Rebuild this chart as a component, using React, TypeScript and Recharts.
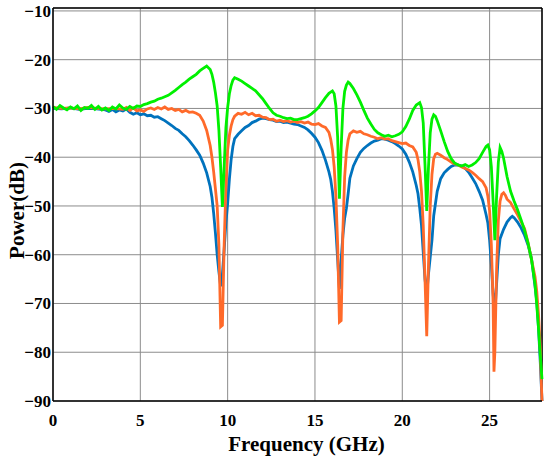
import React from 'react';
import { LineChart, Line, XAxis, YAxis, CartesianGrid, ReferenceLine } from 'recharts';

// frequency (GHz) / power (dB)
const blueFreq = [
  0, 0.5, 1, 1.5, 2, 2.5, 3, 3.2, 3.4, 3.6, 3.8, 4, 4.2, 4.4, 4.6, 4.8, 5, 5.2, 5.4, 5.6, 5.8, 6, 6.2, 6.4,
  6.6, 6.8, 7, 7.2, 7.4, 7.6, 7.8, 8, 8.2, 8.4, 8.6, 8.8, 9, 9.1, 9.2, 9.3, 9.4, 9.5, 9.6, 9.7, 9.8, 9.9,
  10, 10.1, 10.2, 10.3, 10.4, 10.6, 10.8, 11, 11.2, 11.4, 11.6, 11.8, 12, 12.2, 12.4, 12.6, 12.8, 13, 13.2,
  13.4, 13.6, 13.8, 14, 14.2, 14.4, 14.6, 14.8, 15, 15.2, 15.4, 15.6, 15.8, 15.9, 16, 16.1, 16.2, 16.3, 16.4,
  16.5, 16.6, 16.7, 16.8, 16.9, 17, 17.2, 17.4, 17.6, 17.8, 18, 18.2, 18.4, 18.6, 18.8, 19, 19.2, 19.4, 19.6,
  19.8, 20, 20.2, 20.4, 20.6, 20.8, 20.9, 21, 21.1, 21.2, 21.3, 21.4, 21.5, 21.6, 21.7, 21.8, 21.9, 22, 22.2,
  22.4, 22.6, 22.8, 23, 23.2, 23.4, 23.6, 23.8, 24, 24.2, 24.4, 24.6, 24.8, 24.9, 25, 25.1, 25.2, 25.3, 25.4,
  25.5, 25.6, 25.8, 26, 26.2, 26.3, 26.4, 26.6, 26.8, 27, 27.2, 27.4, 27.6, 27.7, 27.8, 27.9, 28,
];
const blueDb = [
  -30.0, -30.1, -29.9, -30.2, -30.0, -30.1, -30.3, -30.6, -30.2, -30.7, -30.3, -30.5, -30.1, -30.8, -31.2, -30.9,
  -31.3, -31.1, -31.5, -31.4, -31.8, -31.7, -32.1, -32.5, -33.0, -33.5, -34.1, -34.5, -35.2, -35.8, -36.6, -37.5,
  -38.5, -39.6, -41.2, -43.2, -46.0, -48.2, -51.5, -55.5, -60, -63.5, -66.5, -64, -59, -53.5, -49.5, -44.5, -40.5,
  -37.8, -36.2, -35.3, -34.6, -33.9, -33.5, -32.9, -32.6, -32.2, -32.0, -32.1, -32.3, -32.4, -32.7, -32.6, -32.9,
  -32.8, -33.0, -33.2, -33.3, -33.6, -33.9, -34.4, -35.1, -35.9, -37.0, -38.6, -40.6, -43, -44.5, -47, -50.5, -55,
  -61, -67, -61, -56, -52.5, -50.5, -47.5, -44.3, -41.8, -40.3, -39.0, -38.2, -37.6, -37.1, -36.7, -36.5, -36.2,
  -36.3, -36.5, -36.8, -37.2, -37.7, -38.3, -39.4, -41.0, -43.0, -45.8, -47.5, -50.5, -54, -59.5, -65, -68, -64,
  -60.5, -57, -52, -49.5, -47.0, -44.4, -43.2, -42.5, -41.9, -41.6, -41.6, -41.8, -42.3, -43.1, -44.2, -45.4, -47.0,
  -48.8, -51.8, -53.5, -57, -62, -68, -72, -66, -60, -56.7, -54.8, -53.3, -52.4, -52.1, -52.4, -53.3, -54.5, -56.0,
  -58.0, -60.8, -66.5, -69.5, -75, -82, -90,
];

const orangeFreq = [
  0, 0.5, 1, 1.5, 2, 2.5, 3, 3.5, 4, 4.2, 4.4, 4.6, 4.8, 5, 5.2, 5.4, 5.6, 5.8, 6, 6.2, 6.4, 6.6, 6.8, 7, 7.2,
  7.4, 7.6, 7.8, 8, 8.2, 8.4, 8.6, 8.8, 9, 9.1, 9.2, 9.3, 9.4, 9.5, 9.6, 9.7, 9.8, 9.9, 10, 10.1, 10.2, 10.3,
  10.4, 10.6, 10.8, 11, 11.2, 11.4, 11.6, 11.8, 12, 12.2, 12.4, 12.6, 12.8, 13, 13.2, 13.4, 13.6, 13.8, 14,
  14.2, 14.4, 14.6, 14.8, 15, 15.2, 15.4, 15.6, 15.8, 15.9, 16, 16.1, 16.2, 16.3, 16.4, 16.5, 16.6, 16.7, 16.8,
  16.9, 17, 17.2, 17.4, 17.6, 17.8, 18, 18.2, 18.4, 18.6, 18.8, 19, 19.2, 19.4, 19.6, 19.8, 20, 20.2, 20.4,
  20.6, 20.8, 20.9, 21, 21.1, 21.2, 21.3, 21.4, 21.5, 21.6, 21.7, 21.8, 21.9, 22, 22.2, 22.4, 22.6, 22.8, 23,
  23.2, 23.4, 23.6, 23.8, 24, 24.2, 24.4, 24.6, 24.8, 24.9, 25, 25.1, 25.2, 25.25, 25.3, 25.4, 25.5, 25.6,
  25.7, 25.8, 25.9, 26, 26.2, 26.4, 26.6, 26.8, 27, 27.2, 27.4, 27.6, 27.7, 27.8, 27.9, 27.95, 28,
];
const orangeDb = [
  -29.8, -30.0, -29.9, -30.1, -29.8, -30.0, -30.1, -30.0, -30.2, -29.8, -30.4, -29.9, -30.5, -30.3, -30.6, -30.1,
  -29.9, -30.2, -29.8, -30.1, -29.7, -30.2, -30.0, -30.4, -30.2, -30.7, -30.4, -30.8, -30.7, -31.0, -31.4, -32.6,
  -34.5, -37.6, -40, -43, -46.5, -50, -58, -74.8, -74.5, -58, -46, -38.5, -35.5, -33.6, -32.3, -31.6, -31.0, -31.2,
  -30.8, -31.3, -31.0, -31.5, -31.4, -31.8, -31.9, -32.3, -32.2, -32.6, -32.4, -32.7, -32.5, -32.8, -32.6, -32.9,
  -32.7, -33.0, -32.8, -33.2, -33.3, -33.1, -33.6, -33.9, -34.9, -36.3, -38.4, -42, -48, -58, -73.8, -73.5, -55,
  -44, -39, -36.5, -35.2, -34.6, -34.9, -34.7, -35.2, -35.4, -35.7, -35.9, -36.2, -36.0, -36.3, -36.2, -36.6,
  -36.8, -37.0, -37.2, -37.1, -37.6, -37.9, -39.0, -40.5, -43, -47, -54, -65, -76.7, -62, -50, -43.5, -40.3, -39.4,
  -39.2, -39.6, -40.1, -40.5, -41.0, -41.4, -41.6, -42.0, -42.3, -42.6, -43.1, -43.7, -44.4, -45.0, -46.3, -48,
  -51, -58, -70, -84, -80, -63, -53, -49, -47.6, -47.3, -47.8, -48.6, -49.3, -50.6, -51.8, -53.2, -54.6, -57.5,
  -61, -64.5, -67.5, -72.3, -79, -85, -90,
];

const greenFreq = [
  0, 0.2, 0.4, 0.6, 0.8, 1, 1.2, 1.4, 1.6, 1.8, 2, 2.2, 2.4, 2.6, 2.8, 3, 3.2, 3.4, 3.6, 3.8, 4, 4.2, 4.4, 4.6,
  4.8, 5, 5.2, 5.4, 5.6, 5.8, 6, 6.2, 6.4, 6.6, 6.8, 7, 7.2, 7.4, 7.6, 7.8, 8, 8.2, 8.4, 8.6, 8.8, 9, 9.1, 9.2,
  9.3, 9.4, 9.5, 9.6, 9.7, 9.8, 9.9, 10, 10.1, 10.2, 10.3, 10.4, 10.6, 10.8, 11, 11.2, 11.4, 11.6, 11.8, 12,
  12.2, 12.4, 12.6, 12.8, 13, 13.2, 13.4, 13.6, 13.8, 14, 14.2, 14.4, 14.6, 14.8, 15, 15.2, 15.4, 15.6, 15.8,
  16, 16.1, 16.2, 16.3, 16.4, 16.5, 16.6, 16.7, 16.8, 16.9, 17, 17.2, 17.4, 17.6, 17.8, 18, 18.2, 18.4, 18.6,
  18.8, 19, 19.2, 19.4, 19.6, 19.8, 20, 20.2, 20.4, 20.6, 20.8, 21, 21.1, 21.2, 21.3, 21.4, 21.5, 21.6, 21.7,
  21.8, 21.9, 22, 22.2, 22.4, 22.6, 22.8, 23, 23.2, 23.4, 23.6, 23.8, 24, 24.2, 24.4, 24.6, 24.8, 24.9, 25,
  25.1, 25.2, 25.3, 25.4, 25.5, 25.6, 25.7, 25.8, 26, 26.2, 26.4, 26.6, 26.8, 27, 27.2, 27.4, 27.6, 27.7, 27.8,
  27.9, 28,
];
const greenDb = [
  -29.6, -30.2, -29.4, -29.9, -30.3, -29.7, -30.1, -29.5, -30.4, -29.8, -30.0, -29.4, -30.2, -29.6, -30.3, -29.9,
  -30.4, -29.7, -30.1, -29.3, -29.9, -30.2, -29.6, -30.0, -29.5, -29.6, -29.2, -29.0, -28.7, -28.5, -28.1, -27.9,
  -27.6, -27.3, -26.8, -26.3, -25.7, -25.1, -24.6, -24.0, -23.5, -23.0, -22.3, -21.8, -21.3, -22.0, -23.0, -24.6,
  -26.8, -29.5, -34.5, -42, -50.2, -42, -34, -29.8, -27, -25.3, -24.2, -23.7, -24.0, -24.4, -24.9, -25.4, -25.9,
  -26.4, -27.2, -28.0, -29.0, -30.0, -30.9, -31.4, -31.6, -31.9, -32.1, -32.0, -32.3, -32.3, -32.1, -31.9, -31.6,
  -31.1, -30.5, -29.8, -28.8, -27.8, -26.9, -26.4, -27.0, -29.5, -36, -48.5, -38, -30, -26.5, -25.2, -24.6, -24.9,
  -25.9, -27.2, -28.7, -30.4, -32.0, -33.2, -34.3, -35.0, -35.4, -35.7, -35.5, -35.8, -35.6, -35.3, -34.8, -33.7,
  -32.2, -30.4, -29.3, -28.8, -29.8, -33, -41.5, -51, -42, -35, -32.2, -31.3, -31.6, -32.5, -34.6, -36.8, -38.8,
  -40.3, -41.2, -41.6, -41.8, -41.5, -41.9, -41.6, -41.1, -40.3, -39.0, -37.8, -37.5, -38.5, -42, -49, -57, -48,
  -41, -38, -38.8, -40.2, -44.0, -47.0, -49.0, -50.8, -52.8, -55.0, -57.6, -61.0, -66.0, -70.3, -75.0, -80.5,
  -85.5,
];

const xTicks = [0, 5, 10, 15, 20, 25];
const yTicks = [-90, -80, -70, -60, -50, -40, -30, -20, -10];

const toPoints = (f: number[], v: number[]) => f.map((x, i) => ({ f: x, p: v[i] }));

const series = [
  { name: 'blue', color: '#0072BD', data: toPoints(blueFreq, blueDb) },
  { name: 'orange', color: '#FF6A2A', data: toPoints(orangeFreq, orangeDb) },
  { name: 'green', color: '#00F000', data: toPoints(greenFreq, greenDb) },
];

const SERIF = '"Liberation Serif", "Times New Roman", serif';
const font = { fontFamily: SERIF, fontWeight: 'bold', fill: '#000' };
const Y_TOP = -9.4;

const XTick = ({ x, y, payload }: any) => (
  <text x={x} y={y + 15} textAnchor="middle" fontFamily={SERIF} fontWeight="bold" fontSize={17} fill="#000">
    {payload.value}
  </text>
);

const YTick = ({ x, y, payload }: any) => (
  <text x={x} y={y + 6} textAnchor="end" fontFamily={SERIF} fontWeight="bold" fontSize={17} fill="#000">
    {String(payload.value).replace('-', '\u2212')}
  </text>
);

export default function App() {
  return (
    <div style={{ position: 'absolute', left: 0, top: 0, background: '#fff' }}>
      <LineChart width={550} height={457} margin={{ top: 8, right: 8, left: 0, bottom: 0 }}>
        <CartesianGrid stroke="#8c8c8c" strokeWidth={1} />
        <XAxis
          type="number"
          dataKey="f"
          domain={[0, 28]}
          ticks={xTicks}
          allowDuplicatedCategory={false}
          height={56}
          tickSize={0}
          tickMargin={10}
          stroke="#000"
          strokeWidth={1.5}
          tick={<XTick />}
          label={{ value: 'Frequency (GHz)', position: 'insideBottom', offset: 6, dx: 9, style: { ...font, fontSize: 21 } }}
        />
        <YAxis
          type="number"
          domain={[-90, Y_TOP]}
          ticks={yTicks}
          width={53}
          tickSize={0}
          tickMargin={2}
          stroke="#000"
          strokeWidth={1.5}
          tick={<YTick />}
          label={{ value: 'Power(dB)', angle: -90, position: 'insideLeft', dx: 12, dy: 6, style: { ...font, fontSize: 21, textAnchor: 'middle' } }}
        />
        <ReferenceLine y={Y_TOP} stroke="#000" strokeWidth={1.5} />
        <ReferenceLine x={28} stroke="#000" strokeWidth={1.5} />
        {series.map(({ name, color, data }) => (
          <Line
            key={name}
            data={data}
            dataKey="p"
            type="linear"
            stroke={color}
            strokeWidth={2.8}
            dot={false}
            activeDot={false}
            isAnimationActive={false}
          />
        ))}
      </LineChart>
    </div>
  );
}
